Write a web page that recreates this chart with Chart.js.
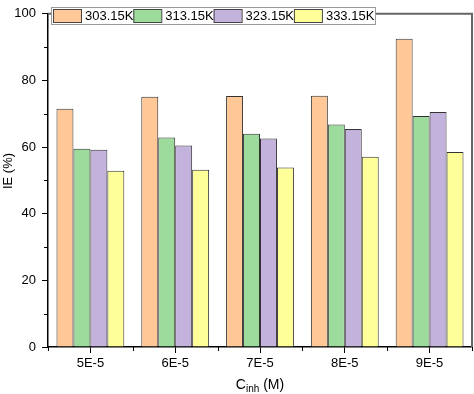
<!DOCTYPE html>
<html>
<head>
<meta charset="utf-8">
<script src="https://cdn.jsdelivr.net/npm/chart.js@4"></script>
<style>
html,body{margin:0;padding:0;background:#fff;}
#wrap{width:474px;height:394px;position:relative;}
</style>
</head>
<body>
<div id="wrap"><canvas id="c" width="474" height="394"></canvas></div>
<script>
const categories = ['5E-5', '6E-5', '7E-5', '8E-5', '9E-5'];
const seriesLabels = ['303.15K', '313.15K', '323.15K', '333.15K'];
const ie303 = [71.5, 75.1, 75.3, 75.4, 92.5];
const ie313 = [59.5, 62.9, 64.0, 66.8, 69.3];
const ie323 = [59.2, 60.5, 62.6, 65.4, 70.5];
const ie333 = [52.9, 53.2, 53.9, 57.1, 58.5];
const yTicks = [0, 20, 40, 60, 80, 100];

const fills = ['#FFC896', '#9DDB9D', '#C2B2DC', '#FFFF99'];
const FONT = 'Arial, "Liberation Sans", sans-serif';

const extras = {
  id: 'extras',
  afterDraw(chart) {
    const ctx = chart.ctx;
    const a = chart.chartArea;
    const xs = chart.scales.x, ys = chart.scales.y;
    ctx.save();
    // frame top & right
    ctx.strokeStyle = '#666';
    ctx.lineWidth = 2;
    ctx.beginPath();
    ctx.moveTo(a.left, a.top);
    ctx.lineTo(a.right, a.top);
    ctx.lineTo(a.right, a.bottom);
    ctx.stroke();
    // minor ticks
    ctx.strokeStyle = '#000';
    ctx.lineWidth = 1;
    ctx.beginPath();
    const n = categories.length;
    for (let i = 0; i <= n; i++) {
      const x = Math.round(xs.getPixelForValue(i - 0.5)) + 0.5;
      ctx.moveTo(x, a.bottom);
      ctx.lineTo(x, a.bottom + 4);
    }
    for (let v = 10; v < 100; v += 20) {
      const y = Math.round(ys.getPixelForValue(v)) + 0.5;
      ctx.moveTo(a.left, y);
      ctx.lineTo(a.left - 4, y);
    }
    ctx.stroke();
    // legend
    const lx = 51, ly = 7, lw = 324, lh = 17;
    ctx.fillStyle = '#fff';
    ctx.fillRect(lx, ly, lw, lh);
    ctx.strokeStyle = '#999';
    ctx.lineWidth = 1;
    ctx.strokeRect(lx + 0.5, ly + 0.5, lw, lh);
    ctx.font = '13px ' + FONT;
    ctx.textBaseline = 'middle';
    ctx.textAlign = 'left';
    chart.data.datasets.forEach((ds, i) => {
      const sx = 53 + i * 80.3;
      ctx.fillStyle = ds.backgroundColor;
      ctx.fillRect(sx, 9.5, 28, 13);
      ctx.strokeStyle = '#444';
      ctx.strokeRect(sx + 0.5, 9.5, 28, 13);
      ctx.fillStyle = '#000';
      ctx.fillText(ds.label, sx + 32, 16.5);
    });
    // x title with subscript
    ctx.fillStyle = '#000';
    ctx.textBaseline = 'alphabetic';
    const cx = (a.left + a.right) / 2;
    const base = 389;
    ctx.font = '14px ' + FONT;
    const wC = ctx.measureText('C').width;
    const wM = ctx.measureText(' (M)').width;
    ctx.font = '10px ' + FONT;
    const wS = ctx.measureText('inh').width;
    let x0 = cx - (wC + wS + wM) / 2;
    ctx.font = '14px ' + FONT;
    ctx.fillText('C', x0, base);
    ctx.font = '10px ' + FONT;
    ctx.fillText('inh', x0 + wC, base + 3);
    ctx.font = '14px ' + FONT;
    ctx.fillText(' (M)', x0 + wC + wS, base);
    // y title
    ctx.translate(8, 171);
    ctx.rotate(-Math.PI / 2);
    ctx.textAlign = 'center';
    ctx.textBaseline = 'middle';
    ctx.font = '13px ' + FONT;
    ctx.fillText('IE (%)', 0, 0);
    ctx.restore();
  }
};

const datasets = [ie303, ie313, ie323, ie333].map((d, i) => ({
  label: seriesLabels[i],
  data: d,
  backgroundColor: fills[i],
  borderColor: '#333',
  borderWidth: 1,
  borderSkipped: 'bottom',
  categoryPercentage: 0.8,
  barPercentage: 1.0
}));

new Chart(document.getElementById('c'), {
  type: 'bar',
  data: { labels: categories, datasets },
  options: {
    responsive: false,
    animation: false,
    devicePixelRatio: 1,
    layout: { padding: { top: 5, right: 2, left: 0, bottom: 0 } },
    plugins: { legend: { display: false }, tooltip: { enabled: false }, title: { display: false } },
    scales: {
      x: {
        offset: true,
        grid: { display: true, offset: false, drawOnChartArea: false, drawTicks: true, tickLength: 6, color: '#000', lineWidth: 1 },
        border: { display: true, color: '#000', width: 1.5 },
        ticks: { color: '#000', font: { family: FONT, size: 13 }, padding: 3, maxRotation: 0 },
        afterFit(s) { s.height = 47; }
      },
      y: {
        min: 0, max: 100,
        afterBuildTicks(s) { s.ticks = yTicks.map(v => ({ value: v })); },
        grid: { display: true, drawOnChartArea: false, drawTicks: true, tickLength: 6, color: '#000', lineWidth: 1 },
        border: { display: true, color: '#000', width: 1.5 },
        ticks: { color: '#000', font: { family: FONT, size: 13 }, padding: 6 },
        afterFit(s) { s.width = 48; }
      }
    }
  },
  plugins: [extras]
});
</script>
</body>
</html>
